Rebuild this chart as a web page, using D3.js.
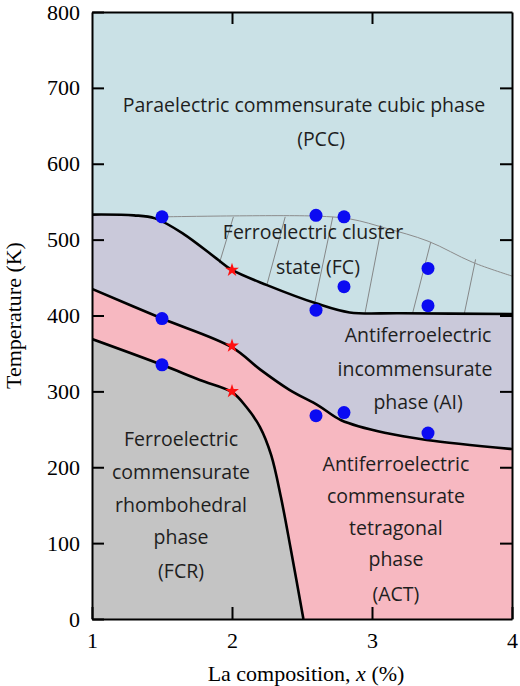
<!DOCTYPE html>
<html>
<head>
<meta charset="utf-8">
<script src="https://cdn.jsdelivr.net/npm/d3@7"></script>
<style>
	body { margin: 0; background: #fff; }
	svg { display: block; }
</style>
</head>
<body>
<script>
// Axis ticks
const xTicks = [1, 2, 3, 4]
const yTicks = [0, 100, 200, 300, 400, 500, 600, 700, 800]

// Phase boundaries, [La %, T (K)]
const pccBoundary = [[1, 533], [1.3, 532], [1.45, 528], [1.65, 508], [1.89, 475], [2, 460], [2.25, 440], [2.6, 416], [2.84, 404], [3.2, 403], [4, 402]]
const clusterTop = [[1.5, 530], [2.6, 531], [2.85, 527], [3.1, 515], [3.4, 498], [3.72, 470], [4, 452]]
const aiBoundary = [[1, 435], [1.5, 396], [2, 358], [2.2, 329], [2.41, 302], [2.62, 281], [2.78, 262], [3.1, 245], [3.39, 236], [4, 224]]
const fcrBoundary = [[1, 369], [1.5, 335], [1.77, 315], [2, 299], [2.1, 280], [2.2, 253], [2.28, 216], [2.35, 160], [2.42, 92], [2.51, 0]]

// Hatching in the cluster region: [x bottom, T bottom, x top, T top]
const hatchLines = [[1.91, 469, 2.01, 530], [2.25, 441, 2.38, 530], [2.59, 416, 2.72, 530], [2.95, 403, 3.07, 518], [3.29, 403, 3.42, 497], [3.66, 403, 3.74, 474]]

// Measured points
const blueDots = [[1.5, 530], [2.6, 532], [2.8, 530], [3.4, 462], [3.4, 413], [2.8, 438], [2.6, 407], [1.5, 396], [1.5, 335], [2.6, 268], [2.8, 272], [3.4, 245]]
const redStars = [[2, 460], [2, 360], [2, 300]]

// Phase names, one entry per text line: [text, x, T]
const phaseLabels = [
	['Paraelectric commensurate cubic phase', 2.514, 668],
	['(PCC)', 2.636, 623],
	['Ferroelectric cluster', 2.579, 501],
	['state (FC)', 2.614, 455],
	['Antiferroelectric', 3.329, 365],
	['incommensurate', 3.307, 320],
	['phase (AI)', 3.329, 277],
	['Ferroelectric', 1.636, 228],
	['commensurate', 1.636, 185],
	['rhombohedral', 1.636, 141],
	['phase', 1.636, 99],
	['(FCR)', 1.636, 54],
	['Antiferroelectric', 3.171, 195],
	['commensurate', 3.171, 153],
	['tetragonal', 3.171, 111],
	['phase', 3.171, 70],
	['(ACT)', 3.171, 24]
]

let colors = {
	pcc: '#cae1e6',
	ai: '#cac9da',
	act: '#f7b8c1',
	fcr: '#c4c4c4'
}

const width = 520, height = 686
const margin = {top: 12, right: 8, bottom: 67, left: 92}

const svg = d3.select('body').append('svg')
	.attr('width', width).attr('height', height)

const x = d3.scaleLinear().domain([1, 4]).range([margin.left, width - margin.right])
const y = d3.scaleLinear().domain([0, 800]).range([height - margin.bottom, margin.top])

svg.append('clipPath').attr('id', 'plot-clip')
	.append('rect')
	.attr('x', x(1)).attr('y', y(800))
	.attr('width', x(4) - x(1)).attr('height', y(0) - y(800))

const g = svg.append('g').attr('clip-path', 'url(#plot-clip)')

const curve = d3.curveCatmullRom.alpha(0.5)
const area = d3.area().x(d => x(d[0])).y1(d => y(d[1])).y0(y(0)).curve(curve)
const line = d3.line().x(d => x(d[0])).y(d => y(d[1])).curve(curve)

// Region fills, back to front
g.append('rect')
	.attr('x', x(1)).attr('y', y(800))
	.attr('width', x(4) - x(1)).attr('height', y(0) - y(800))
	.style('fill', colors.pcc)

g.append('path').attr('d', area(pccBoundary)).style('fill', colors.ai)
g.append('path').attr('d', area(aiBoundary)).style('fill', colors.act)
g.append('path').attr('d', area(fcrBoundary)).style('fill', colors.fcr)

// Cluster region hatching
g.selectAll('.hatch').data(hatchLines).join('line')
	.attr('class', 'hatch')
	.attr('x1', d => x(d[0])).attr('y1', d => y(d[1]))
	.attr('x2', d => x(d[2])).attr('y2', d => y(d[3]))
	.style('stroke', '#7d7d7d').style('stroke-width', 0.9)

g.append('path').attr('d', line(clusterTop))
	.style('fill', 'none').style('stroke', '#8c8c8c').style('stroke-width', 1)

// Black boundaries
for (let b of [pccBoundary, aiBoundary, fcrBoundary]) {
	g.append('path').attr('d', line(b))
		.style('fill', 'none').style('stroke', '#000').style('stroke-width', 2.6)
}

// Text labels
svg.append('g').selectAll('text').data(phaseLabels).join('text')
	.attr('x', d => x(d[1])).attr('y', d => y(d[2]))
	.style('font', '19.5px "Open Sans", sans-serif')
	.style('text-anchor', 'middle')
	.style('fill', '#1e1e1e')
	.text(d => d[0])

// Markers
svg.append('g').selectAll('circle').data(blueDots).join('circle')
	.attr('cx', d => x(d[0])).attr('cy', d => y(d[1]))
	.attr('r', 6.5)
	.style('fill', '#0b0bf2')

svg.append('g').selectAll('path').data(redStars).join('path')
	.attr('d', d3.symbol(d3.symbolStar).size(60))
	.attr('transform', d => `translate(${x(d[0])}, ${y(d[1])})`)
	.style('fill', '#ff1010')

// Axes, ticks pointing inward
const serif = '"Liberation Serif", "Times New Roman", serif'

function styleAxis(sel) {
	sel.attr('font-family', serif).attr('font-size', 22)
	sel.select('.domain').style('stroke', '#000').style('stroke-width', 2)
	sel.selectAll('.tick line').style('stroke', '#000').style('stroke-width', 2)
	sel.selectAll('.tick text').style('fill', '#000')
}

svg.append('g')
	.attr('transform', `translate(0, ${y(0)})`)
	.call(d3.axisBottom(x).tickValues(xTicks).tickFormat(d3.format('d'))
		.tickSizeInner(-12).tickSizeOuter(0).tickPadding(12))
	.call(styleAxis)
	.call(a => a.selectAll('.tick text').attr('dy', '0.78em'))

svg.append('g')
	.attr('transform', `translate(${x(1)}, 0)`)
	.call(d3.axisLeft(y).tickValues(yTicks)
		.tickSizeInner(-12).tickSizeOuter(0).tickPadding(12))
	.call(styleAxis)

svg.append('g')
	.attr('transform', `translate(0, ${y(800)})`)
	.call(d3.axisTop(x).tickValues(xTicks.slice(1, -1)).tickFormat('')
		.tickSizeInner(-12).tickSizeOuter(0))
	.call(styleAxis)

svg.append('g')
	.attr('transform', `translate(${x(4)}, 0)`)
	.call(d3.axisRight(y).tickValues(yTicks.slice(1, -1)).tickFormat('')
		.tickSizeInner(-12).tickSizeOuter(0))
	.call(styleAxis)

// Axis titles
const xTitle = svg.append('text')
	.attr('x', (x(1) + x(4)) / 2 + 4).attr('y', 681)
	.attr('font-family', serif).attr('font-size', 22)
	.style('text-anchor', 'middle')
xTitle.append('tspan').text('La composition, ')
xTitle.append('tspan').style('font-style', 'italic').text('x')
xTitle.append('tspan').text(' (%)')

svg.append('text')
	.attr('transform', `translate(21, ${(y(0) + y(800)) / 2}) rotate(-90)`)
	.attr('font-family', serif).attr('font-size', 22)
	.style('text-anchor', 'middle')
	.text('Temperature (K)')
</script>
</body>
</html>
